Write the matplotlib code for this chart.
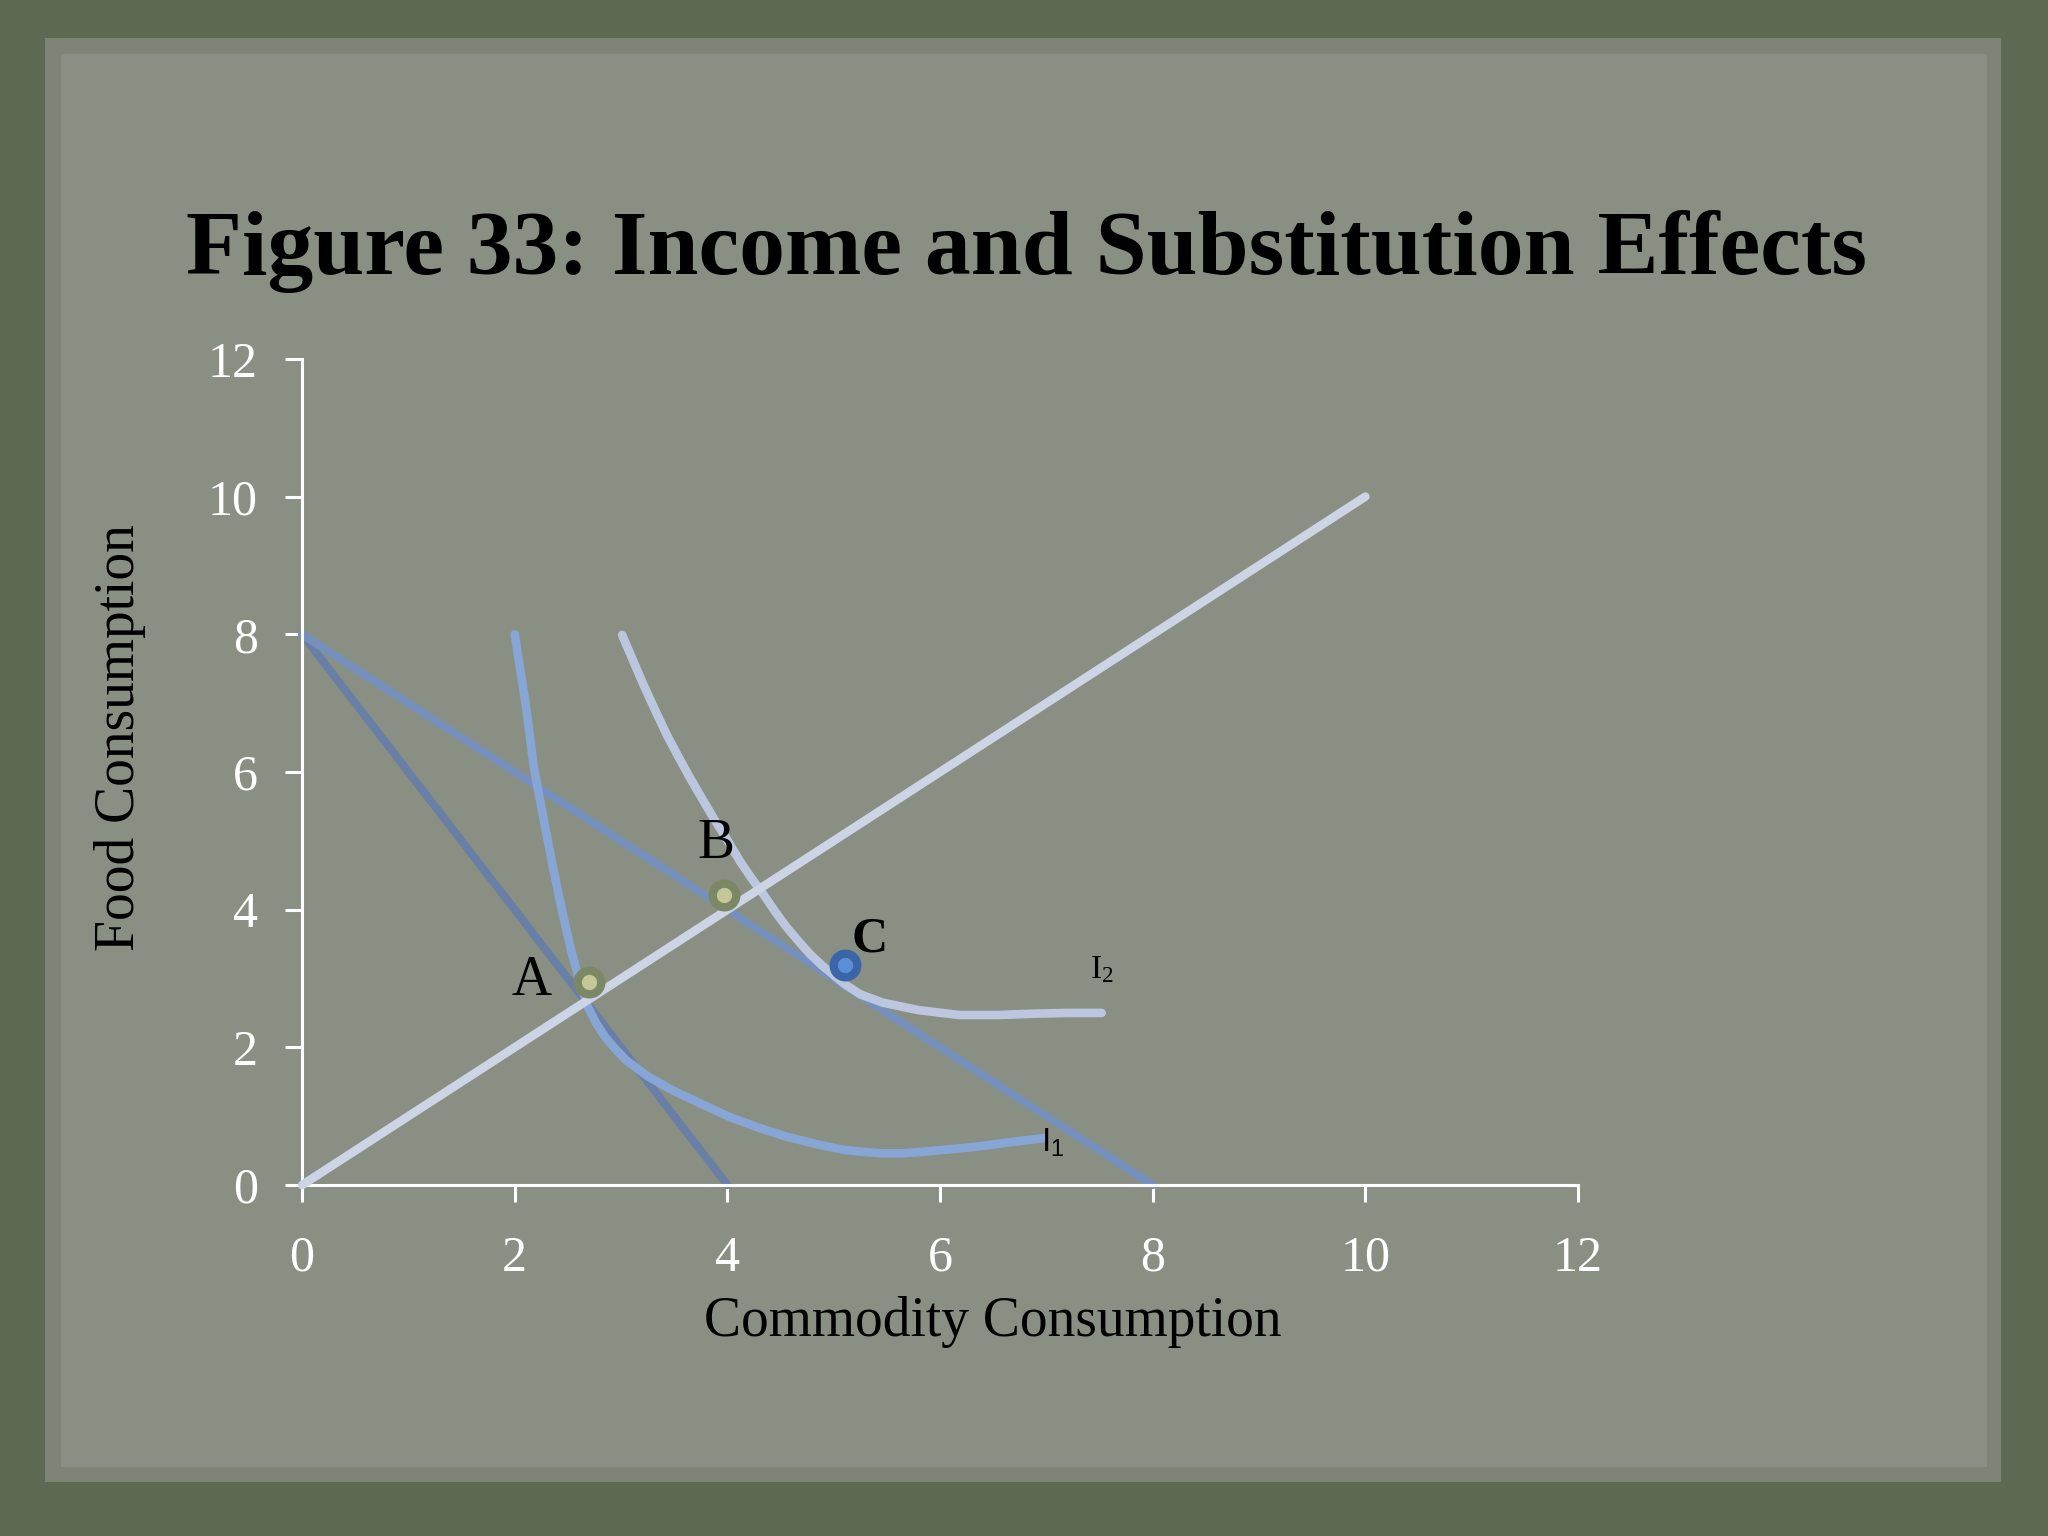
import matplotlib
matplotlib.use("Agg")
import matplotlib.pyplot as plt
from matplotlib.patches import Rectangle

# axis ticks
ticks = [0, 2, 4, 6, 8, 10, 12]

# budget lines and the income-expansion ray
budget1_x = [0, 4]
budget1_y = [8, 0]
budget2_x = [0, 8]
budget2_y = [8, 0]
ray_x = [0, 10]
ray_y = [0, 10]

# indifference curves, points
i1_x = [2.00, 2.05, 2.10, 2.14, 2.18, 2.27, 2.36, 2.46, 2.54, 2.62, 2.69, 2.77, 2.85,
        2.95, 3.05, 3.25, 3.48, 3.75, 4.02, 4.30, 4.56, 4.85, 5.10, 5.28, 5.46, 5.64,
        5.82, 6.10, 6.36, 6.65, 6.97]
i1_y = [8.00, 7.50, 7.02, 6.55, 6.06, 5.33, 4.61, 3.88, 3.35, 2.91, 2.58, 2.34, 2.15,
        1.97, 1.81, 1.58, 1.38, 1.18, 0.99, 0.83, 0.70, 0.59, 0.51, 0.48, 0.46, 0.46,
        0.48, 0.52, 0.56, 0.62, 0.68]
i2_x = [3.01, 3.11, 3.21, 3.32, 3.43, 3.54, 3.65, 3.76, 3.87, 4.00, 4.12, 4.23, 4.34,
        4.45, 4.56, 4.67, 4.78, 4.89, 5.00, 5.10, 5.25, 5.46, 5.80, 6.18, 6.55, 6.90,
        7.20, 7.52]
i2_y = [7.99, 7.63, 7.27, 6.90, 6.54, 6.22, 5.91, 5.62, 5.33, 5.01, 4.70, 4.45, 4.22,
        3.97, 3.74, 3.54, 3.35, 3.19, 3.05, 2.92, 2.77, 2.65, 2.54, 2.47, 2.47, 2.49,
        2.50, 2.50]

# marked points
pts_x = [2.70, 3.97]
pts_y = [2.95, 4.21]
c_x = [5.11]
c_y = [3.19]

labels = ["A", "B"]
label_x = [2.16, 3.89]
label_y = [2.96, 4.95]

fig = plt.figure(figsize=(10.24, 7.68), dpi=200)
fig.patch.set_facecolor("#5e6953")

# paper sheet
fig.patches.append(Rectangle((0.022, 0.035), 0.955, 0.94, transform=fig.transFigure,
                             facecolor="#7e8577", edgecolor="none", zorder=-2))
fig.patches.append(Rectangle((0.03, 0.045), 0.94, 0.92, transform=fig.transFigure,
                             facecolor="#899083", edgecolor="none", zorder=-1))

fig.text(0.501, 0.8216, "Figure 33: Income and Substitution Effects",
         ha="center", va="baseline", fontsize=33, fontweight="bold",
         family="Liberation Serif", color="black")

ax = fig.add_axes([0.1475, 0.2285, 0.623, 0.5378])
ax.set_facecolor("none")

ax.plot(budget1_x, budget1_y, color="#6a7fa6", lw=2.9, solid_capstyle="round", zorder=2)
ax.plot(budget2_x, budget2_y, color="#7690bd", lw=2.9, solid_capstyle="round", zorder=2)
ax.plot(i1_x, i1_y, color="#87a6d6", lw=3.1, solid_capstyle="round",
        solid_joinstyle="round", zorder=3)
ax.plot(i2_x, i2_y, color="#bcc7df", lw=3.1, solid_capstyle="round",
        solid_joinstyle="round", zorder=3)
ax.plot(ray_x, ray_y, color="#ccd4e5", lw=3.1, solid_capstyle="round", zorder=4)

ax.plot(pts_x, pts_y, "o", ms=8.5, mfc="#c4c898", mec="#7b8765", mew=3.0, zorder=5)
ax.plot(c_x, c_y, "o", ms=8.5, mfc="#5a8ed6", mec="#3a65a8", mew=3.0, zorder=5)

for t, x, y in zip(labels, label_x, label_y):
    ax.text(x, y, t, ha="center", va="center", fontsize=20,
            family="Liberation Serif", color="black", zorder=6)
ax.text(5.34, 3.56, "C", ha="center", va="center", fontsize=18, fontweight="bold",
        family="Liberation Serif", color="black", zorder=6)
ax.text(7.52, 3.13, r"$\mathregular{I_2}$", ha="center", va="center", fontsize=12,
        family="Liberation Serif", color="black", zorder=6)
ax.text(7.06, 0.61, r"$\mathregular{I_1}$", ha="center", va="center", fontsize=12,
        family="Liberation Sans", color="black", zorder=6)

ax.set_xlim(0, 12)
ax.set_ylim(0, 12)
ax.set_xticks(ticks)
ax.set_yticks(ticks)
ax.set_xticklabels([str(t) for t in ticks], family="Liberation Serif")
ax.set_yticklabels([str(t) for t in ticks], family="Liberation Serif")
ax.tick_params(axis="x", colors="white", labelsize=18, length=6, width=1.1,
               direction="out", pad=12)
ax.tick_params(axis="y", colors="white", labelsize=18, length=6, width=1.1,
               direction="out", pad=10)
for side in ["top", "right"]:
    ax.spines[side].set_visible(False)
for side in ["left", "bottom"]:
    ax.spines[side].set_color("white")
    ax.spines[side].set_linewidth(1.1)
for line in ax.lines:
    line.set_clip_on(False)

fig.text(0.4846, 0.1393, "Commodity Consumption", ha="center", va="center",
         fontsize=20, family="Liberation Serif", color="black")
fig.text(0.0586, 0.5195, "Food Consumption", ha="center", va="center",
         rotation=90, fontsize=20, family="Liberation Serif", color="black")

fig.savefig("out.png", dpi=200, facecolor=fig.get_facecolor())
